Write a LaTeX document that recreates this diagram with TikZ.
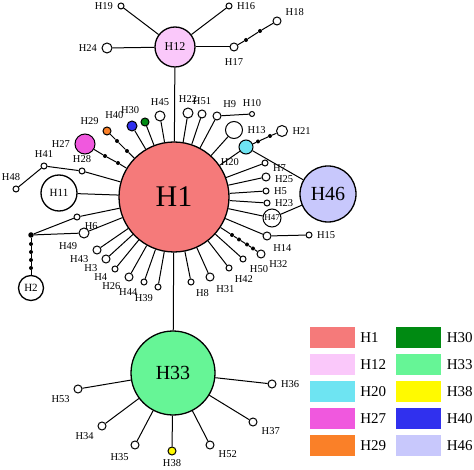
\documentclass[tikz,border=0pt]{standalone}
\usepackage{fontspec}
\setmainfont{Liberation Serif}
\usepackage{tikz}
\usetikzlibrary{positioning}
\definecolor{cH1}{RGB}{245,122,122}
\definecolor{cH12}{RGB}{250,200,250}
\definecolor{cH20}{RGB}{110,228,242}
\definecolor{cH27}{RGB}{240,88,222}
\definecolor{cH29}{RGB}{250,128,40}
\definecolor{cH30}{RGB}{0,138,18}
\definecolor{cH33}{RGB}{102,245,150}
\definecolor{cH38}{RGB}{255,250,0}
\definecolor{cH40}{RGB}{48,48,238}
\definecolor{cH46}{RGB}{200,200,252}
\begin{document}
\begin{tikzpicture}[
    x=1pt, y=-1pt,
    every node/.style={font=\fontsize{10.5}{10.5}\selectfont},
    label distance=1pt,
    hap/.style={circle, draw, line width=1pt, fill=white, inner sep=0pt},
    hs/.style={hap, minimum size=6pt},
    hm/.style={hap, minimum size=8pt},
    hl/.style={hap, minimum size=10pt},
    big/.style={hap, line width=1.3pt},
    mut/.style={circle, fill=black, inner sep=0pt, minimum size=4pt},
    edge/.style={line width=1pt},
    key/.style={rectangle, minimum width=45pt, minimum height=21pt, inner sep=0pt},
    keytxt/.style={inner sep=0pt, font=\fontsize{15}{15}\selectfont}
]
\useasboundingbox (0,0) rectangle (474,470);
% H12 si vecinii
\node[big, fill=cH12, minimum size=40pt, font=\fontsize{12}{12}\selectfont] (h12) at (175,47) {H12};
\node[hs, label=left:H19] (h19) at (121,6) {};
\node[hl, label=left:H24] (h24) at (107,48) {};
\node[hs, label=right:H16] (h16) at (229,6) {};
\node[hm, label={[label distance=4pt]below:H17}] (h17) at (234,47) {};
\node[hm, label=20:H18] (h18) at (277,21) {};
\node[mut] (m17a) at (246,40) {};
\node[mut] (m17b) at (260,31) {};
% H1
\node[big, fill=cH1, minimum size=110pt, font=\fontsize{30}{30}\selectfont] (h1) at (174,197) {H1};
% sus
\node[hl, label=above:H22] (h22) at (188,113) {};
\node[hm, label=above:H51] (h51) at (202,114) {};
\node[hm, label=60:H9] (h9) at (217,116) {};
\node[hs, minimum size=5pt, label=above:H10] (h10) at (252,114) {};
\node[hl, label=above:H45] (h45) at (160,116) {};
\node[hm, fill=cH30, label=115:H30] (h30) at (145,122) {};
\node[hl, fill=cH40, label=140:H40] (h40) at (132,126) {};
\node[hm, fill=cH29, label=150:H29] (h29) at (107,131) {};
\node[mut] (m29a) at (127,151) {};
\node[mut] (m29b) at (117,141) {};
\node[hap, minimum size=20pt, fill=cH27, label=left:H27] (h27) at (85,144) {};
\node[mut] (m27a) at (118,163) {};
\node[mut] (m27b) at (105,156) {};
% stanga
\node[hs, label=above:H41] (h41) at (44,166) {};
\node[hs, label={[xshift=-5pt]above:H48}] (h48) at (16,189) {};
\node[hs, label=above:H28] (h28) at (82,171) {};
\node[big, minimum size=36pt, font=\fontsize{11}{11}\selectfont] (h11) at (59,193) {H11};
\node[hs, label=-20:H6] (h6) at (77,217) {};
\node[hl, label=-120:H49] (h49) at (84,233) {};
\node[mut, minimum size=5.5pt] (jn) at (31,235) {};
\node[mut] (m2a) at (31,244) {};
\node[mut] (m2b) at (31,252) {};
\node[mut] (m2c) at (31,260) {};
\node[mut] (m2d) at (31,268) {};
\node[big, minimum size=25pt, font=\fontsize{11}{11}\selectfont] (h2) at (31,288) {H2};
% jos
\node[hm, label=200:H43] (h43) at (97,250) {};
\node[hm, label=200:H3] (h3) at (106,259) {};
\node[hs, label=200:H4] (h4) at (115,269) {};
\node[hm, label=205:H26] (h26) at (129,277) {};
\node[hs, label=225:H44] (h44) at (144,282) {};
\node[hs, label=-110:H39] (h39) at (158,287) {};
\node[hs, label=-70:H8] (h8) at (191,282) {};
\node[hm, label=-60:H31] (h31) at (210,277) {};
\node[hs, label=-60:H42] (h42) at (229,268) {};
\node[hs, label=-40:H50] (h50) at (243,259) {};
\node[hm, label=-30:H32] (h32) at (261,254) {};
\node[mut] (m32a) at (232,235) {};
\node[mut] (m32b) at (239,239.5) {};
\node[mut] (m32c) at (247,244.5) {};
\node[mut] (m32d) at (253,248.5) {};
\node[hm, label=-60:H14] (h14) at (267,236) {};
\node[hs, label=right:H15] (h15) at (309,235) {};
% dreapta
\node[big, fill=cH46, minimum size=56pt, font=\fontsize{20}{20}\selectfont] (h46) at (328,194) {H46};
\node[big, minimum size=18pt, line width=1pt, font=\fontsize{9}{9}\selectfont] (h47) at (272,218) {H47};
\node[hs, label=right:H23] (h23) at (267,203) {};
\node[hs, label=right:H5] (h5) at (266,191) {};
\node[hm, label={[yshift=-2pt]right:H25}] (h25) at (266,177) {};
\node[hs, label={[yshift=-5pt]right:H7}] (h7) at (265,163) {};
\node[hap, minimum size=14pt, fill=cH20, label=-115:H20] (h20) at (246,147) {};
\node[hap, minimum size=17pt, label=right:H13] (h13) at (234,130) {};
\node[mut] (m21a) at (258,141.5) {};
\node[mut] (m21b) at (270,136) {};
\node[hap, minimum size=11pt, label=right:H21] (h21) at (282,131) {};
% H33 si vecinii
\node[big, fill=cH33, minimum size=84pt, font=\fontsize{20}{20}\selectfont] (h33) at (173,373) {H33};
\node[hm, label=210:H53] (h53) at (78,389) {};
\node[hm, label=208:H34] (h34) at (102,426) {};
\node[hm, label=-120:H35] (h35) at (135,445) {};
\node[hm, fill=cH38, label={[label distance=0pt]below:H38}] (h38) at (172,451) {};
\node[hm, label=-20:H52] (h52) at (210,445) {};
\node[hm, label=-20:H37] (h37) at (253,422) {};
\node[hm, label=right:H36] (h36) at (272,384) {};
% Legenda
\node[key, fill=cH1] (k1) at (332.5,338) {};
\node[key, fill=cH12, below=5.5pt of k1] (k12) {};
\node[key, fill=cH20, below=5.5pt of k12] (k20) {};
\node[key, fill=cH27, below=5.5pt of k20] (k27) {};
\node[key, fill=cH29, below=5.5pt of k27] (k29) {};
\node[key, fill=cH30, right=41pt of k1] (k30) {};
\node[key, fill=cH33, below=5.5pt of k30] (k33) {};
\node[key, fill=cH38, below=5.5pt of k33] (k38) {};
\node[key, fill=cH40, below=5.5pt of k38] (k40) {};
\node[key, fill=cH46, below=5.5pt of k40] (k46) {};
\node[keytxt, right=5pt of k1] (t1) {H1};
\node[keytxt, right=5pt of k12] (t12) {H12};
\node[keytxt, right=5pt of k20] (t20) {H20};
\node[keytxt, right=5pt of k27] (t27) {H27};
\node[keytxt, right=5pt of k29] (t29) {H29};
\node[keytxt, right=5pt of k30] (t30) {H30};
\node[keytxt, right=5pt of k33] (t33) {H33};
\node[keytxt, right=5pt of k38] (t38) {H38};
\node[keytxt, right=5pt of k40] (t40) {H40};
\node[keytxt, right=5pt of k46] (t46) {H46};
% Legaturi H12
\draw[edge] (h12) -- (h1);
\draw[edge] (h12) -- (h19);
\draw[edge] (h12) -- (h24);
\draw[edge] (h12) -- (h16);
\draw[edge] (h12) -- (h17);
\draw[edge] (h17) -- (m17a) -- (m17b) -- (h18);
% Legaturi H1
\draw[edge] (h1) -- (h22);
\draw[edge] (h1) -- (h51);
\draw[edge] (h1) -- (h9);
\draw[edge] (h9) -- (h10);
\draw[edge] (h1) -- (h45);
\draw[edge] (h1) -- (h30);
\draw[edge] (h1) -- (h40);
\draw[edge] (h1) -- (m29a) -- (m29b) -- (h29);
\draw[edge] (h1) -- (m27a) -- (m27b) -- (h27);
\draw[edge] (h1) -- (h28);
\draw[edge] (h28) -- (h41);
\draw[edge] (h41) -- (h48);
\draw[edge] (h1) -- (h11);
\draw[edge] (h1) -- (h6);
\draw[edge] (h1) -- (h49);
\draw[edge] (h6) -- (jn);
\draw[edge] (h49) -- (jn);
\draw[edge] (jn) -- (m2a) -- (m2b) -- (m2c) -- (m2d) -- (h2);
\draw[edge] (h1) -- (h43);
\draw[edge] (h1) -- (h3);
\draw[edge] (h1) -- (h4);
\draw[edge] (h1) -- (h26);
\draw[edge] (h1) -- (h44);
\draw[edge] (h1) -- (h39);
\draw[edge] (h1) -- (h8);
\draw[edge] (h1) -- (h31);
\draw[edge] (h1) -- (h42);
\draw[edge] (h1) -- (h50);
\draw[edge] (h1) -- (m32a) -- (m32b) -- (m32c) -- (m32d) -- (h32);
\draw[edge] (h1) -- (h14);
\draw[edge] (h14) -- (h15);
\draw[edge] (h1) -- (h47);
\draw[edge] (h47) -- (h46);
\draw[edge] (h1) -- (h23);
\draw[edge] (h1) -- (h5);
\draw[edge] (h1) -- (h25);
\draw[edge] (h1) -- (h7);
\draw[edge] (h1) -- (h20);
\draw[edge] (h20) -- (h46);
\draw[edge] (h20) -- (m21a) -- (m21b) -- (h21);
\draw[edge] (h1) -- (h13);
% Legaturi H33
\draw[edge] (h1) -- (h33);
\draw[edge] (h33) -- (h53);
\draw[edge] (h33) -- (h34);
\draw[edge] (h33) -- (h35);
\draw[edge] (h33) -- (h38);
\draw[edge] (h33) -- (h52);
\draw[edge] (h33) -- (h37);
\draw[edge] (h33) -- (h36);
\end{tikzpicture}
\end{document}
